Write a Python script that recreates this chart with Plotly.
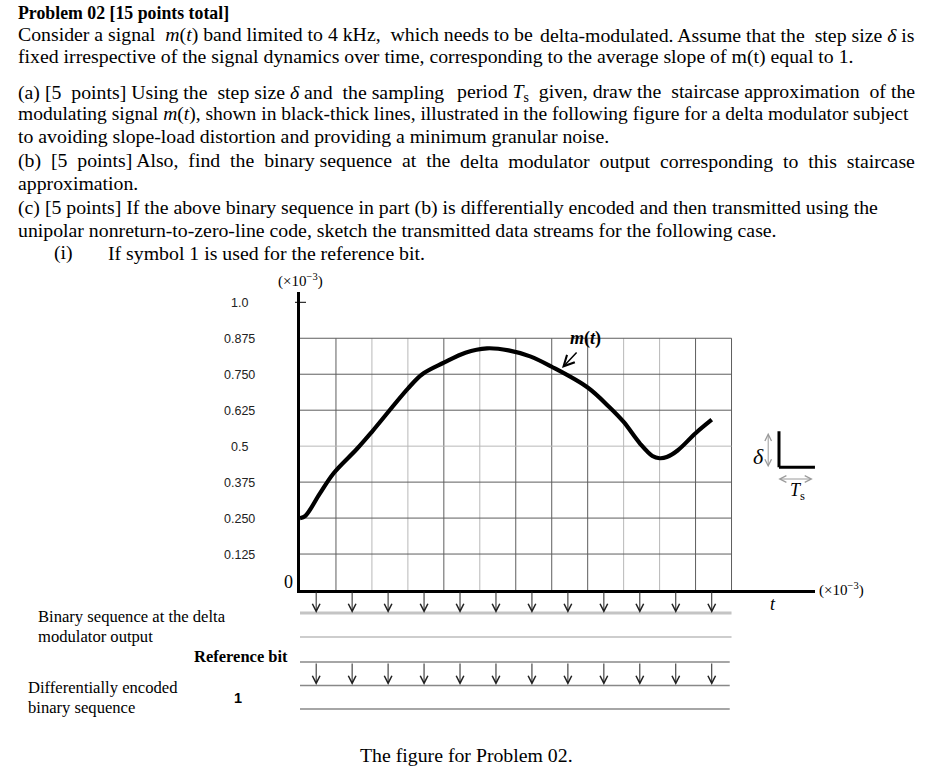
import plotly.graph_objects as go

W, H = 941, 780

# ---------------- data ----------------
t_curve = [0.0, 0.15, 0.55, 0.93, 1.58, 2.0, 3.0, 3.4, 4.0, 4.6, 5.2, 5.8, 6.4, 7.0,
           8.0, 8.6, 9.0, 9.45, 9.8, 10.0, 10.2, 10.5, 11.0, 11.45]
m_curve = [0.25, 0.258, 0.335, 0.405, 0.49, 0.55, 0.70, 0.75, 0.79, 0.825, 0.840, 0.833,
           0.812, 0.776, 0.704, 0.636, 0.584, 0.51, 0.466, 0.458, 0.462, 0.485, 0.545, 0.592]
y_tick_vals = [1.0, 0.875, 0.750, 0.625, 0.5, 0.375, 0.250, 0.125]
y_tick_text = ["1.0", "0.875", "0.750", "0.625", "0.5", "0.375", "0.250", "0.125"]
n_samples = 12
grid_x = list(range(1, 13))
grid_y = [0.125, 0.25, 0.375, 0.5, 0.625, 0.75, 0.875]
light_x = [2, 3, 5, 9, 10]
light_y = [0.5]
delta = 0.125
Ts = 1.0

# ---------------- geometry (reference pixels) ----------------
X0, X1 = 300, 815
YB, YT = 590, 291.7
PX_X = 35.96
PX_Y = 287.7
x_range = [0, (X1 - X0) / PX_X]
y_range = [0, (YB - YT) / PX_Y]
y2_range = [-(H - YB) / PX_Y, 0]


def py(ypx):
    return (YB - ypx) / PX_Y


def fx(x):
    return x / W


def fy(y):
    return 1 - y / H


SERIF = "Liberation Serif, Times New Roman, serif"
SANS = "Liberation Sans, Arial, sans-serif"
NB = "\u00a0"

fig = go.Figure()
fig.add_trace(go.Scatter(x=t_curve, y=m_curve, mode="lines",
                         line=dict(color="black", width=4.2, shape="spline", smoothing=1.0),
                         hoverinfo="skip", showlegend=False, xaxis="x", yaxis="y"))
fig.add_trace(go.Scatter(x=[None], y=[None], mode="lines", hoverinfo="skip",
                         showlegend=False, xaxis="x", yaxis="y2"))

shapes = []
for gx in grid_x:
    c = "#b8b8b8" if gx in light_x else "#5e5e5e"
    shapes.append(dict(type="line", xref="x", yref="y", x0=gx, x1=gx, y0=0, y1=grid_y[-1],
                       line=dict(color=c, width=1), layer="below"))
for gy in grid_y:
    c = "#b8b8b8" if gy in light_y else "#5e5e5e"
    shapes.append(dict(type="line", xref="x", yref="y", x0=0, x1=grid_x[-1], y0=gy, y1=gy,
                       line=dict(color=c, width=1), layer="below"))
# tick at 1.0
shapes.append(dict(type="line", xref="paper", yref="y", x0=fx(295), x1=fx(306),
                   y0=y_tick_vals[0], y1=y_tick_vals[0], line=dict(color="black", width=1)))

# delta / Ts indicator
Lx, Ly = 13.32, py(467.3)
shapes.append(dict(type="line", xref="x", yref="y", x0=Lx, x1=Lx, y0=Ly, y1=Ly + delta,
                   line=dict(color="black", width=3)))
shapes.append(dict(type="line", xref="x", yref="y", x0=Lx, x1=Lx + Ts, y0=Ly, y1=Ly,
                   line=dict(color="black", width=3)))

# answer rows lines
row_lines = [(613, "#c4c4c4", 3, 0.0, 12.0), (637, "#bdbdbd", 1.5, 0.0, 12.0),
             (662, "#888888", 1.5, -0.08, 11.95), (685.5, "#888888", 1.5, -0.08, 11.95),
             (709, "#888888", 1.5, -0.08, 11.95)]
for ypx, c, w, xa, xb in row_lines:
    shapes.append(dict(type="line", xref="x", yref="y2", x0=xa, x1=xb, y0=py(ypx), y1=py(ypx),
                       line=dict(color=c, width=w)))

ann = []
# y tick labels
for v, s in zip(y_tick_vals, y_tick_text):
    ann.append(dict(xref="paper", yref="y", x=fx(239), y=v, text=s, showarrow=False,
                    xanchor="center", yanchor="middle", yshift=-1,
                    font=dict(family=SANS, size=12.5, color="#222")))

# arrows rows
for k in range(n_samples):
    for top, bot in [(590, 613), (662, 685)]:
        ann.append(dict(xref="x", yref="y2", x=k + 0.45, y=py(bot), ax=0, ay=-(bot - top),
                        text="", showarrow=True, arrowhead=5, arrowsize=1.5, arrowwidth=1,
                        arrowcolor="#222", standoff=0, startstandoff=0))

# m(t) arrow + label
ann.append(dict(xref="x", yref="y", x=(562 - X0) / PX_X, y=py(368), ax=16, ay=-17, text="",
                showarrow=True, arrowhead=5, arrowsize=1.4, arrowwidth=1.5, arrowcolor="black",
                standoff=0, startstandoff=0))
ann.append(dict(xref="x", yref="y", x=(585 - X0) / PX_X, y=py(338), text="<b><i>m</i>(<i>t</i>)</b>",
                showarrow=False, xanchor="center", yanchor="middle",
                font=dict(family=SERIF, size=18, color="black")))

# delta / Ts double arrows
ann.append(dict(xref="x", yref="y", x=13.02, y=Ly, axref="x", ayref="y", ax=13.02, ay=Ly + delta,
                text="", showarrow=True, arrowside="end+start", arrowhead=5, arrowsize=1.3,
                arrowwidth=1, arrowcolor="#9a9a9a", standoff=0, startstandoff=0))
ann.append(dict(xref="x", yref="y", x=13.26 + Ts, y=py(479), axref="x", ayref="y", ax=13.26, ay=py(479),
                text="", showarrow=True, arrowside="end+start", arrowhead=5, arrowsize=1.3,
                arrowwidth=1, arrowcolor="#9a9a9a", standoff=0, startstandoff=0))


def txt(s, x, y, size, family=SERIF, xanchor="left", color="black"):
    ann.append(dict(xref="paper", yref="paper", x=fx(x), y=fy(y), text=s, showarrow=False,
                    xanchor=xanchor, yanchor="middle",
                    font=dict(family=family, size=size, color=color)))


def spread(s, n):
    """insert one extra no-break space into n gaps, evenly spaced"""
    parts = s.split(" ")
    g = len(parts) - 1
    picks = set(round((i + 0.5) * g / n - 0.5) for i in range(n)) if n > 0 else set()
    out = parts[0]
    for i, p in enumerate(parts[1:]):
        out += (" " + NB if i in picks else " ") + p
    return out


txt("<i>δ</i>", 758, 456, 22, xanchor="center")
txt("<i>T</i><sub>s</sub>", 797, 491, 18, xanchor="center")
txt("<i>t</i>", 773, 604, 18, xanchor="center")
txt("0", 288, 582, 18, xanchor="center")
txt("(×10<sup>−3</sup>)", 300, 280, 15, xanchor="center")
txt("(×10<sup>−3</sup>)", 817, 589, 15, xanchor="left")

# problem text
FS = 19.8
LEFT, RIGHT = 16, 917
txt("<b>Problem 02 [15 points total]</b>", LEFT, 13, 17.8)

# justified lines: left chunk anchored left, right chunk anchored right
justified = [
    ("Consider a signal <i>m</i>(<i>t</i>) band limited to 4 kHz, which needs to be",
     "delta-modulated. Assume that the step size <i>δ</i> is", 35, 2, 1),
    ("(a) [5 points] Using the step size <i>δ</i> and the sampling",
     "period <i>T</i><sub>s</sub> given, draw the staircase approximation of the", 92, 3, 3),
    ("(b) [5 points] Also, find the binary sequence at the",
     "delta modulator output corresponding to this staircase", 161, 7, 6),
]
for left_s, right_s, y, nl, nr in justified:
    txt(spread(left_s, nl), LEFT, y, FS, xanchor="left")
    txt(spread(right_s, nr), RIGHT, y, FS, xanchor="right")

plain = [
    ("modulating signal <i>m</i>(<i>t</i>), shown in black-thick lines, illustrated in the following figure for a delta modulator subject", LEFT, 114, 19.5),
    ("fixed irrespective of the signal dynamics over time, corresponding to the average slope of m(t) equal to 1.", LEFT, 57, FS),
    ("to avoiding slope-load distortion and providing a minimum granular noise.", LEFT, 136, FS),
    ("approximation.", LEFT, 183, FS),
    ("(c) [5 points] If the above binary sequence in part (b) is differentially encoded and then transmitted using the", LEFT, 208, FS),
    ("unipolar nonreturn-to-zero-line code, sketch the transmitted data streams for the following case.", LEFT, 230, FS),
    ("(i)", 52, 253, FS),
    ("If symbol 1 is used for the reference bit.", 106, 253, FS),
]
for s, x, y, fs in plain:
    txt(s, x, y, fs)

txt("Binary sequence at the delta", 36, 616, 16.6)
txt("modulator output", 36, 636, 16.6)
txt("<b>Reference bit</b>", 192, 656, 16.5)
txt("Differentially encoded", 26, 687, 16.6)
txt("binary sequence", 26, 707, 16.6)
txt("<b>1</b>", 238, 698, 14.5, family=SANS, xanchor="center")
txt("The figure for Problem 02.", 466, 755, 19.8, xanchor="center")

fig.update_layout(
    width=W, height=H, margin=dict(l=0, r=0, t=0, b=0),
    paper_bgcolor="white", plot_bgcolor="white", showlegend=False,
    xaxis=dict(domain=[fx(X0), fx(X1)], range=x_range, showline=True, linecolor="black",
               linewidth=3, showgrid=False, zeroline=False, showticklabels=False, ticks="",
               anchor="y", fixedrange=True),
    yaxis=dict(domain=[fy(YB), fy(YT)], range=y_range, showline=True,
               linecolor="black", linewidth=2.5, showgrid=False, zeroline=False,
               showticklabels=False, ticks="", anchor="x", fixedrange=True),
    yaxis2=dict(domain=[0, fy(YB)], range=y2_range, visible=False, anchor="x",
                fixedrange=True),
    shapes=shapes, annotations=ann,
)

fig.write_html("out.html", config={"displayModeBar": False},
               post_script="document.body.style.margin='0';")
